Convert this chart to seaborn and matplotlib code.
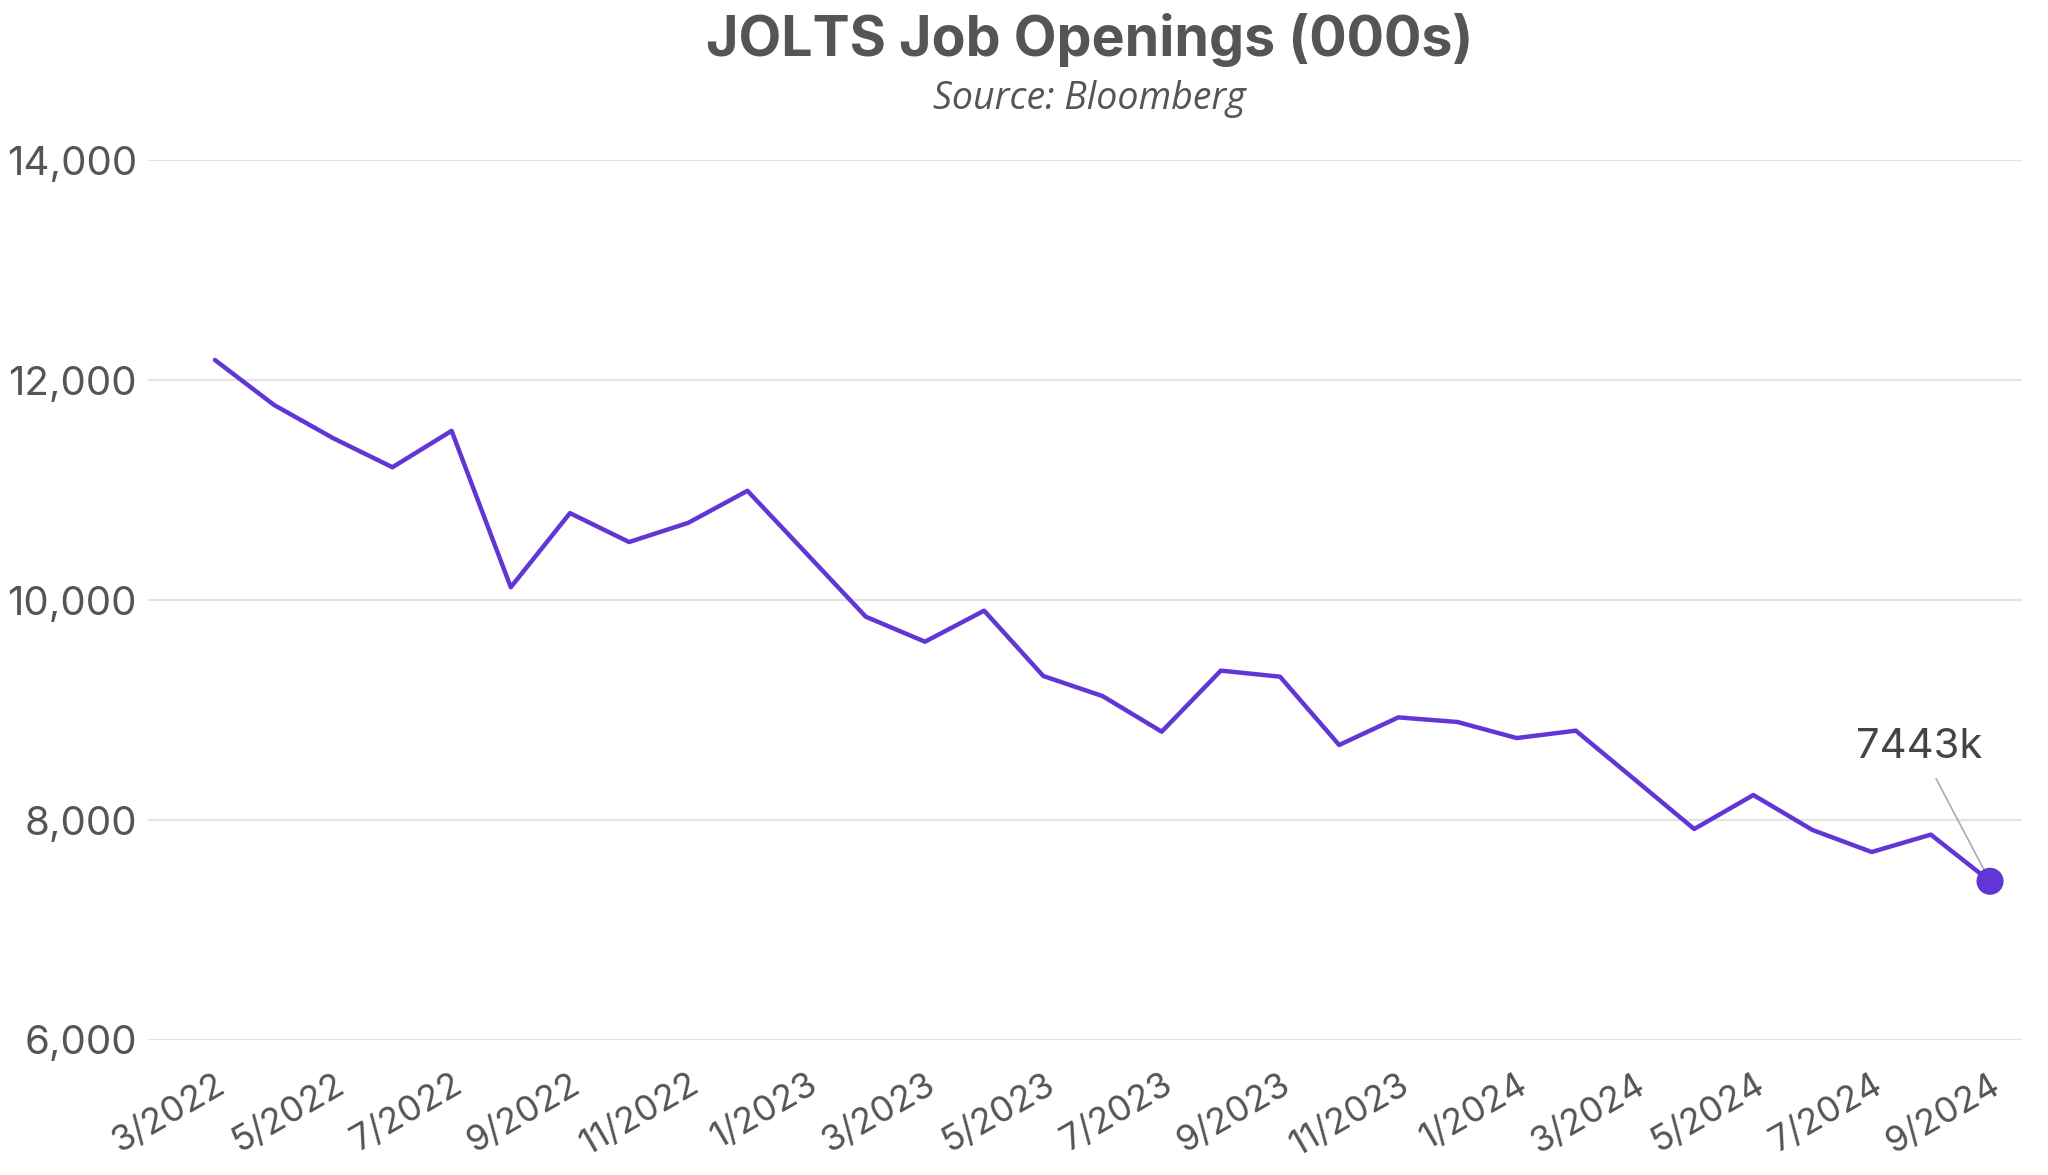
import matplotlib
matplotlib.use("Agg")
import matplotlib.pyplot as plt
import seaborn as sns
import pandas as pd

months = ["3/2022", "4/2022", "5/2022", "6/2022", "7/2022", "8/2022", "9/2022", "10/2022",
          "11/2022", "12/2022", "1/2023", "2/2023", "3/2023", "4/2023", "5/2023", "6/2023",
          "7/2023", "8/2023", "9/2023", "10/2023", "11/2023", "12/2023", "1/2024", "2/2024",
          "3/2024", "4/2024", "5/2024", "6/2024", "7/2024", "8/2024", "9/2024"]
openings = [12182, 11773, 11471, 11207, 11538, 10116, 10790, 10527,
            10702, 10993, 10421, 9848, 9621, 9903, 9309, 9127,
            8803, 9358, 9303, 8682, 8933, 8891, 8745, 8812,
            8366, 7918, 8227, 7909, 7709, 7867, 7443]
y_ticks = [6000, 8000, 10000, 12000, 14000]
y_tick_labels = ["6,000", "8,000", "10,000", "12,000", "14,000"]
title = "JOLTS Job Openings (000s)"
subtitle = "Source: Bloomberg"
last_label = "7443k"

df = pd.DataFrame({"pos": range(len(months)), "month": months, "value": openings})

sns.set_theme(style="white")
plt.rcParams["font.family"] = ["Inter", "DejaVu Sans"]

fig = plt.figure(figsize=(20.48, 11.75), dpi=100)
ax = fig.add_axes([0.0723, 0.1149, 0.915, 0.7489])

line_color = "#6236d4"
sns.lineplot(data=df, x="pos", y="value", ax=ax, color=line_color, linewidth=3.2)
last = df.iloc[-1]
sns.scatterplot(x=[last["pos"]], y=[last["value"]], ax=ax, color=line_color, s=380,
                edgecolor="none", zorder=5)

ax.set_ylim(6000, 14000)
ax.set_xlim(-1.13, len(months) - 1 + 0.54)
ax.set_yticks(y_ticks)
ax.set_yticklabels(y_tick_labels)
tick_pos = list(range(0, len(months), 2))
ax.set_xticks(tick_pos)
ax.set_xticklabels([months[i] for i in tick_pos], rotation=30, ha="right",
                   rotation_mode="anchor")
ax.tick_params(axis="x", labelsize=26, colors="#555555", length=0, pad=20)
ax.tick_params(axis="y", labelsize=29, colors="#555555", length=0, pad=8)
for lbl in ax.get_yticklabels():
    lbl.set_horizontalalignment("right")

ax.grid(axis="y", color="#e3e3e3", linewidth=1.5)
ax.grid(axis="x", visible=False)
for s in ax.spines.values():
    s.set_visible(False)
ax.set_xlabel("")
ax.set_ylabel("")

ax.annotate(last_label, xy=(last["pos"], last["value"]), xytext=(-51, 97),
            textcoords="offset points", ha="center", va="center", fontsize=30,
            color="#444444",
            arrowprops=dict(arrowstyle="-", color="#aaaaaa", linewidth=1.2,
                            shrinkA=8, shrinkB=0))

fig.text(0.532, 0.966, title, ha="center", va="center", fontsize=40,
         fontweight="bold", color="#555555")
fig.text(0.532, 0.916, subtitle, ha="center", va="center", fontsize=27,
         fontstyle="italic", color="#555555", family=["Open Sans", "DejaVu Sans"])

fig.savefig("out.png", dpi=100, facecolor="white")
